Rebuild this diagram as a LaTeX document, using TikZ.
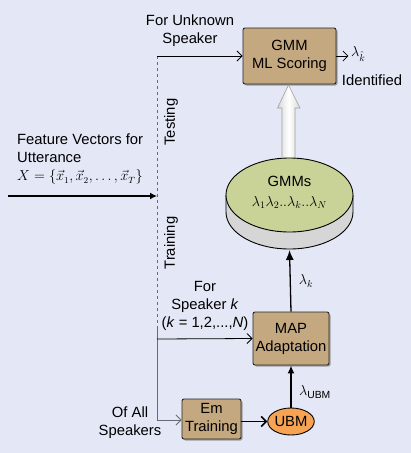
\documentclass[tikz,border=0pt]{standalone}
\usepackage{amsmath}
\usepackage{fontspec}
\setmainfont{Liberation Sans}
\usetikzlibrary{arrows.meta,shadows,shapes.geometric,positioning}

\definecolor{bgcol}{RGB}{228,231,245}
\definecolor{boxtan}{RGB}{196,168,128}
\definecolor{ubmorange}{RGB}{246,163,84}
\definecolor{gmmgreen}{RGB}{201,211,152}
\definecolor{sidegray}{RGB}{214,214,214}
\definecolor{linegray}{RGB}{105,105,115}

\tikzset{
  blockbox/.style={draw=black!85,fill=boxtan,rounded corners=2pt,line width=0.9pt,align=center,inner sep=0pt,
    drop shadow={shadow xshift=1.5pt,shadow yshift=-1.5pt,fill=black!45,opacity=0.8}},
  lbl/.style={align=center,inner sep=0pt},
  openarrow/.style={-{Straight Barb[length=5pt,width=10pt]},line width=0.8pt},
  fillarrow/.style={-{Latex[length=10pt,width=8pt]},line width=1.3pt},
}

\begin{document}
\begin{tikzpicture}[x=1pt,y=-1pt,font=\fontsize{14.8}{18}\selectfont]
\fill[bgcol] (0,0) rectangle (411,453);

% blocks
\node[blockbox,minimum width=93pt,minimum height=56pt] (scoring) at (289.5,56) {GMM\\ML Scoring};
\node[blockbox,minimum width=76pt,minimum height=53pt] (map) at (291,338.5) {MAP\\Adaptation};
\node[blockbox,minimum width=59pt,minimum height=40pt] (em) at (211.5,419) {Em\\Training};
\node[ellipse,draw,fill=ubmorange,line width=0.9pt,minimum width=42pt,minimum height=27pt,inner sep=0pt] (ubm) at (291,421.5) {UBM};

% GMMs cylinder
\fill[sidegray] (226,195) -- (226,212) arc[start angle=180,end angle=360,x radius=63.5pt,y radius=37pt] -- (353,195) -- cycle;
\draw[line width=0.9pt] (226,195) -- (226,212) arc[start angle=180,end angle=360,x radius=63.5pt,y radius=37pt] -- (353,195);
\draw[line width=0.9pt,fill=gmmgreen] (289.5,195) ellipse[x radius=63.5pt,y radius=37pt];
\node[lbl] (gmms) at (289.5,192) {GMMs\\[2pt]$\lambda_1\lambda_2..\lambda_k..\lambda_N$};
\coordinate (gmmsbot) at (289.5,250);

% hollow arrow to scoring
\draw[draw=gray!75,line width=0.6pt,left color=gray!30,right color=gray!30,middle color=white]
  (282,157) -- (282,108) -- (277.5,108) -- (288.5,85) -- (300,108) -- (295,108) -- (295,157);

% input line
\coordinate (featstart) at (8,196);
\coordinate (split) at (157,196);
\coordinate (ttop) at (157,56);
\coordinate (dashend) at (157,327);
\coordinate (mapsplit) at (157,339);
\coordinate (corner) at (157,420);
\draw[linegray,dashed,line width=0.7pt] (ttop) -- (dashend);
\draw[linegray,line width=0.8pt] (dashend) -- (corner);
\draw[fillarrow,line width=1.6pt,-{Latex[length=7pt,width=7pt]}] (featstart) -- (split);

% connectors
\draw[openarrow] (ttop) -- (scoring.west);
\draw[openarrow] (mapsplit) -- (map.west);
\draw[openarrow,linegray] (corner) -- (corner -| em.west);
\draw[openarrow,line width=1.6pt] (em.east |- ubm) -- (ubm.west);
\draw[fillarrow,line width=2pt,-{Latex[length=8pt,width=7pt]}] (ubm.north) -- (map.south);
\draw[fillarrow] (map.north) -- (gmmsbot);
\node[lbl,anchor=west] (khat) at (351,54) {$\lambda_{\hat k}$};
\draw[openarrow] (scoring.east) -- ++(12,0);

% labels
\node[lbl] (unknown) at (190,31) {For Unknown\\Speaker};
\node[lbl,rotate=90] (testing) at (171,122) {Testing};
\node[lbl,rotate=90] (training) at (171,243) {Training};
\node[lbl,align=left,anchor=north west] (feat) at (17,134) {Feature Vectors for\\Utterance\\{\fontsize{13.5}{18}\selectfont$X=\{\vec{x}_1,\vec{x}_2,\ldots,\vec{x}_T\}$}};
\node[lbl] (spk) at (205,306) {For\\Speaker \textit{k}\\(\textit{k} = 1,2,...,\textit{N})};
\node[lbl] (allspk) at (130,423) {Of All\\Speakers};
\node[lbl] (identified) at (372,80) {Identified};
\node[lbl] (lamk) at (306,281) {$\lambda_k$};
\node[lbl] (lamubm) at (315,392) {$\lambda_{\text{UBM}}$};
\end{tikzpicture}
\end{document}
